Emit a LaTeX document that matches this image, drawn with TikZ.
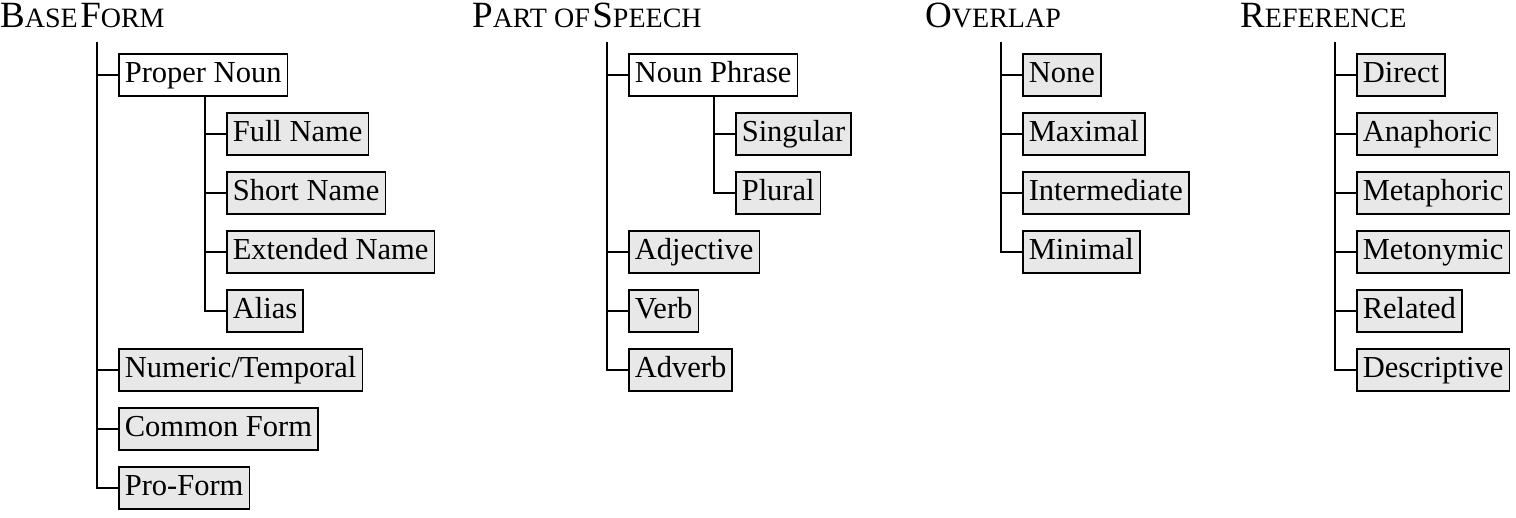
\documentclass[tikz,border=0pt]{standalone}
\usepackage{fontspec}
\setmainfont{Liberation Serif}
\newcommand{\SC}[2]{{\fontsize{37}{40}\selectfont #1}{\fontsize{28}{30}\selectfont #2}}
\begin{document}
\begin{tikzpicture}[x=1pt,y=-1pt,
  leaf/.style={draw,line width=1.6pt,fill=gray!18,anchor=west,minimum height=42pt,inner xsep=6pt,inner ysep=0pt,text height=21pt,text depth=6pt,font=\fontsize{30.5}{32}\selectfont},
  inner/.style={leaf,fill=white},
  ttl/.style={anchor=base west,inner sep=0pt},
  ln/.style={line width=1.3pt}]
\useasboundingbox (0,0) rectangle (1516,517);
% Base Form
\node[ttl] (t1) at (0,27) {\SC{B}{ASE}\ \SC{F}{ORM}};
\coordinate (v1) at (97,42);
\node[inner] (pn) at (118,75) {Proper Noun};
\node[leaf] (fn) at (226,134) {Full Name};
\node[leaf] (sn) at (226,193) {Short Name};
\node[leaf] (en) at (226,252) {Extended Name};
\node[leaf] (al) at (226,311) {Alias};
\node[leaf] (nt) at (118,370) {Numeric/Temporal};
\node[leaf] (cf) at (118,429) {Common Form};
\node[leaf] (pf) at (118,488) {Pro-Form};
\draw[ln] (v1) |- (pf.west);
\foreach \n in {pn,nt,cf} \draw[ln] (v1 |- \n.west) -- (\n.west);
\coordinate (v1b) at (205,0);
\draw[ln] (v1b |- pn.south) |- (al.west);
\foreach \n in {fn,sn,en} \draw[ln] (v1b |- \n.west) -- (\n.west);
% Part of Speech
\node[ttl] (t2) at (472,27) {\SC{P}{ART OF}\ \SC{S}{PEECH}};
\coordinate (v2) at (607,42);
\node[inner] (np) at (628,75) {Noun Phrase};
\node[leaf] (sg) at (735,134) {Singular};
\node[leaf] (pl) at (735,193) {Plural};
\node[leaf] (adj) at (628,252) {Adjective};
\node[leaf] (vb) at (628,311) {Verb};
\node[leaf] (adv) at (628,370) {Adverb};
\draw[ln] (v2) |- (adv.west);
\foreach \n in {np,adj,vb} \draw[ln] (v2 |- \n.west) -- (\n.west);
\coordinate (v2b) at (714,0);
\draw[ln] (v2b |- np.south) |- (pl.west);
\draw[ln] (v2b |- sg.west) -- (sg.west);
% Overlap
\node[ttl] (t3) at (925,27) {\SC{O}{VERLAP}};
\coordinate (v3) at (1001,42);
\node[leaf] (no) at (1022,75) {None};
\node[leaf] (mx) at (1022,134) {Maximal};
\node[leaf] (im) at (1022,193) {Intermediate};
\node[leaf] (mn) at (1022,252) {Minimal};
\draw[ln] (v3) |- (mn.west);
\foreach \n in {no,mx,im} \draw[ln] (v3 |- \n.west) -- (\n.west);
% Reference
\node[ttl] (t4) at (1240,27) {\SC{R}{EFERENCE}};
\coordinate (v4) at (1335,42);
\node[leaf] (di) at (1356,75) {Direct};
\node[leaf] (an) at (1356,134) {Anaphoric};
\node[leaf] (me) at (1356,193) {Metaphoric};
\node[leaf] (mt) at (1356,252) {Metonymic};
\node[leaf] (re) at (1356,311) {Related};
\node[leaf] (de) at (1356,370) {Descriptive};
\draw[ln] (v4) |- (de.west);
\foreach \n in {di,an,me,mt,re} \draw[ln] (v4 |- \n.west) -- (\n.west);
\end{tikzpicture}
\end{document}
